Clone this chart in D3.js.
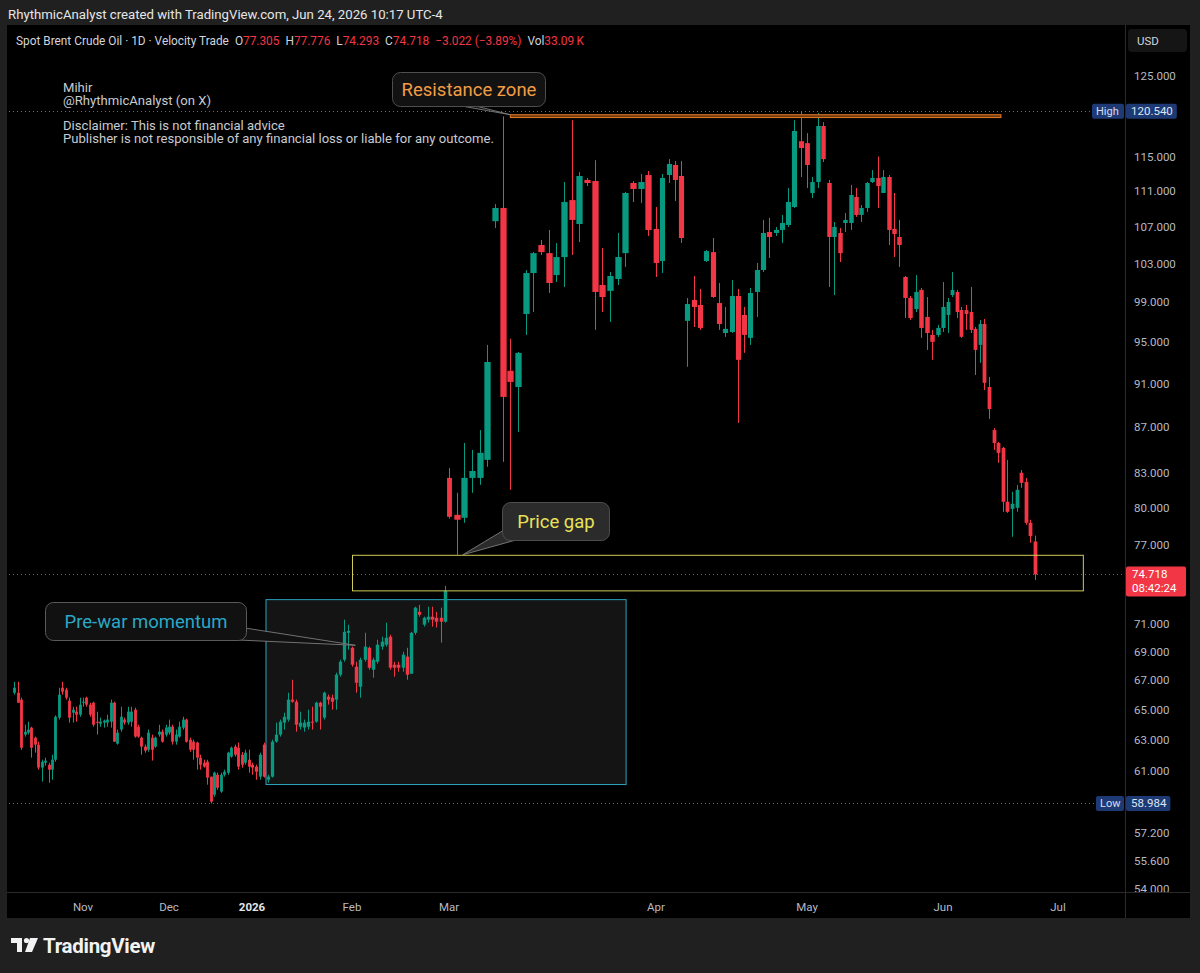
<!DOCTYPE html>
<html lang="en">
<head>
<meta charset="UTF-8">
<title>Spot Brent Crude Oil 1D</title>
<style>
  body { margin: 0; background: #202020; }
  svg { display: block; font-family: Roboto, "Noto Sans", sans-serif; }
</style>
</head>
<body>
<script src="https://d3js.org/d3.v7.min.js"></script>
<script>
// daily bars as [open, high, low, close]
const octBars = [
  [66.13,66.88,66.00,66.47],[66.13,66.88,65.45,65.45],[65.66,65.79,62.35,62.48],[63.33,63.98,63.20,63.52],
  [63.46,64.18,63.33,63.66],[63.79,63.85,61.84,62.48],[63.13,63.20,62.16,62.68],[62.68,62.87,61.08,61.21],
  [61.21,61.71,60.33,61.58],[61.52,61.84,61.33,61.65],[61.39,61.52,60.26,61.08],[61.08,62.03,60.45,61.71],
  [61.71,64.60,61.58,64.51],[64.45,66.47,64.32,66.00],[66.47,66.88,66.00,66.20],[66.34,66.47,65.66,65.79],
  [65.59,65.79,64.12,64.45],[64.78,65.18,64.12,64.98],[64.85,65.18,64.18,64.65],[64.65,65.79,64.51,65.32]
]
const novBars = [
  [65.45,65.79,65.18,65.52],[65.79,65.86,65.18,65.32],[65.32,65.45,64.51,64.65],[65.45,65.52,63.85,63.98],
  [64.18,64.85,63.33,64.12],[64.05,64.45,63.85,64.18],[64.12,64.32,63.79,64.25],[64.12,64.65,63.85,64.32],
  [64.18,65.66,63.79,65.45],[65.45,65.52,62.87,62.87],[62.74,63.66,62.68,63.46],[63.66,65.18,63.52,64.51],
  [64.32,64.45,63.98,64.12],[64.12,65.18,63.98,64.85],[64.18,65.18,63.85,64.85],[64.98,65.12,63.13,63.20],
  [63.85,63.98,63.13,63.20],[63.13,63.20,62.03,62.55],[62.55,62.68,62.16,62.29],[62.35,63.66,62.22,63.46],
  [63.13,63.33,61.65,62.35],[62.55,63.20,62.48,63.13],[63.33,63.98,63.20,63.52],[63.52,63.66,62.81,62.87],
  [63.33,63.98,63.20,63.79]
]
const decBars = [
  [63.46,64.32,63.33,63.85],[63.85,63.98,62.68,62.87],[62.87,63.66,62.68,63.33],[63.20,64.18,63.13,63.85],
  [63.79,64.51,63.66,64.32],[64.32,64.38,62.81,62.87],[63.00,63.13,62.22,62.35],[62.87,63.00,61.71,62.35],
  [62.81,62.87,61.08,61.84],[61.84,62.03,61.08,61.39],[61.52,61.71,61.21,61.27],[61.58,61.71,60.14,60.58],
  [60.64,60.64,58.984,59.09],[59.52,60.95,59.40,60.89],[60.76,60.89,59.83,59.95],[59.71,60.89,59.64,60.76],
  [60.76,61.08,60.64,60.95],[60.89,62.22,60.76,62.16],[61.91,62.55,61.84,62.48],[62.55,62.68,61.91,62.03],
  [62.48,62.81,61.08,61.27],[62.03,62.20,61.20,61.39],[61.52,62.35,61.39,62.16],[61.71,62.35,60.89,61.27]
]
const janBars = [
  [61.39,61.52,60.76,61.21],[61.27,61.39,60.45,60.95],[60.64,62.16,60.45,62.03],[62.68,62.81,60.58,60.64],
  [60.45,60.76,60.26,60.64],[60.64,63.00,60.58,62.87],[62.87,64.12,62.81,63.33],[63.33,64.32,63.20,64.18],
  [64.12,64.78,63.66,64.51],[64.32,66.13,64.18,65.66],[65.66,67.02,65.45,65.52],[65.52,65.66,63.52,63.98],
  [63.85,64.85,63.66,64.12],[63.79,64.32,63.52,64.12],[63.85,64.98,63.66,64.18],[64.18,65.18,63.66,64.12],
  [64.18,65.52,64.12,65.45],[65.45,65.52,63.66,65.18],[64.45,66.20,64.32,66.13],[65.86,66.00,65.32,65.66],
  [65.79,66.00,64.98,65.52],[65.66,67.51,64.98,67.37],[67.37,68.42,67.23,68.28],[68.42,71.31,68.28,70.42],
  [70.35,70.94,69.13,70.49]
]
const febBars = [
  [69.27,69.35,67.93,68.07],[67.93,68.28,66.13,66.81],[66.54,68.57,65.79,68.42],[68.42,70.35,68.28,69.35],
  [69.27,69.35,67.72,67.86],[67.72,68.57,67.16,68.42],[68.28,69.85,68.14,69.49],[69.35,70.07,69.13,69.71],
  [69.49,71.09,69.35,69.99],[70.07,70.21,67.72,67.86],[68.07,68.28,67.23,67.86],[68.07,68.28,67.58,67.86],
  [67.86,68.99,67.58,68.78],[68.64,69.27,67.02,67.37],[67.44,70.42,67.44,70.35],[70.35,72.27,70.21,72.20],
  [71.89,72.41,71.53,71.67],[70.94,71.53,70.80,71.45],[71.31,72.27,71.09,71.53],[71.53,72.27,70.80,71.31],
  [71.45,71.89,70.73,71.16],[71.45,72.20,69.64,71.16],[71.16,73.85,71.09,73.47]
]
const marBars = [
  [82.55,83.40,79.14,79.30],[79.46,81.29,76.25,79.06],[79.22,85.58,78.81,82.55],[82.55,84.97,81.29,83.14],
  [82.55,86.73,81.96,84.71],[84.10,94.70,83.50,93.04],[107.60,109.52,106.85,109.08],[109.08,119.90,83.93,89.75],
  [92.20,95.30,81.54,91.15],[90.67,94.01,86.56,93.92],[97.77,102.30,95.68,101.99],[101.99,104.22,97.97,104.11],
  [104.99,105.53,103.91,104.22],[104.11,106.63,99.92,100.95],[101.78,105.20,101.05,103.69],[103.69,112.04,100.54,109.75],
  [109.97,119.43,103.91,107.74],[107.29,113.20,105.31,112.74],[112.28,112.50,111.58,111.93],[112.16,114.60,96.18,100.02],
  [100.74,104.66,97.97,99.50],[100.13,102.10,96.97,101.68],[101.37,106.30,100.74,103.69],[104.11,110.90,102.63,110.78],
  [111.93,112.16,109.75,111.24],[111.24,112.97,109.63,112.04],[112.85,113.32,105.97,106.63]
]
const aprBars = [
  [106.74,109.19,101.58,103.06],[103.27,112.97,102.00,112.51],[112.85,114.72,111.93,114.15],[114.03,114.49,109.86,112.28],
  [112.74,114.49,105.20,105.75],[97.08,99.40,92.58,98.78],[99.20,101.68,96.47,98.48],[98.68,100.33,96.18,96.37],
  [103.27,104.44,103.16,104.33],[104.22,105.75,99.40,99.50],[98.88,100.95,96.18,96.77],[95.87,98.48,95.49,96.28],
  [95.97,101.26,95.87,99.60],[99.60,100.33,87.37,93.25],[97.67,98.48,93.92,95.68],[95.39,100.43,94.70,99.91],
  [100.02,103.06,97.47,102.31],[102.31,107.74,102.10,106.30],[106.41,107.96,103.59,105.86],[106.30,106.96,105.97,106.63],
  [106.63,108.30,105.20,107.40],[107.18,111.35,106.96,109.75],[109.19,119.43,109.08,118.10],[116.86,120.54,112.62,116.04]
]
const mayBars = [
  [116.63,117.84,111.35,114.03],[110.78,112.62,110.21,112.04],[112.04,120.30,111.35,118.71],[118.71,119.19,114.38,114.72],
  [111.93,112.28,100.54,105.86],[105.86,107.51,99.70,106.96],[106.30,106.85,103.16,104.11],[107.40,108.52,106.41,107.74],
  [107.40,111.70,106.63,110.55],[110.33,111.35,108.08,108.30],[108.30,109.41,107.51,109.08],[109.08,112.04,108.63,111.93],
  [112.04,113.43,111.93,112.51],[112.51,115.02,109.08,111.58],[110.78,113.43,110.78,112.62],[112.62,112.85,104.99,106.63],
  [106.74,110.78,103.69,106.19],[105.86,107.74,102.63,104.99],[101.58,101.68,97.37,99.40],[99.40,99.60,97.17,97.37],
  [98.27,101.78,97.97,100.02],[100.23,100.43,95.39,96.37],[97.47,99.50,94.21,95.87],[95.68,96.18,93.25,95.00],
  [95.68,96.67,95.49,96.37]
]
const junBars = [
  [96.37,101.05,95.97,98.48],[97.67,99.40,95.87,98.99],[99.70,102.10,99.50,100.23],[100.02,100.23,97.37,97.97],
  [98.17,98.48,95.39,95.49],[98.17,98.68,96.18,97.77],[97.97,100.54,95.87,96.18],[96.28,96.47,91.80,94.21],
  [94.70,97.17,92.96,96.77],[96.77,97.27,90.39,91.06],[90.67,91.62,87.73,88.63],[86.73,86.91,84.97,85.58],
  [85.58,85.67,83.84,84.71],[85.15,85.23,79.71,80.54],[80.54,84.10,79.62,79.71],[79.95,81.38,77.68,80.37],
  [80.04,81.96,79.71,81.54],[82.99,83.23,81.71,82.13],[82.21,82.55,78.65,78.81],[78.81,79.06,77.20,77.74],
  [77.305,77.776,74.293,74.718]
]

const monthLabels = ['Nov', 'Dec', '2026', 'Feb', 'Mar', 'Apr', 'May', 'Jun', 'Jul']
const monthFirstBar = [20, 45, 69, 94, 117, 144, 168, 193, 218]
const priceTicks = [125, 115, 111, 107, 103, 99, 95, 91, 87, 83, 80, 77, 71, 69, 67, 65, 63, 61, 57.2, 55.6, 54]
const volumeK = 33.09
const countdown = '08:42:24'

const bars = [].concat(octBars, novBars, decBars, janBars, febBars, marBars, aprBars, mayBars, junBars)
  .map((d, i) => ({ i: i, o: d[0], h: d[1], l: d[2], c: d[3] }))

const W = 1200, H = 973
const UP = '#089981', DOWN = '#f23645'
const axisText = '#b7bac3'
const fmt = d3.format('.3f')

const svg = d3.select('body').append('svg')
  .attr('width', W)
  .attr('height', H)

// time axis is bar-indexed, month spacing as on the screen
const x = d3.scaleLinear()
  .domain(monthFirstBar)
  .range([83, 169, 252, 352, 449, 656, 807, 943, 1058])
const y = d3.scaleLog()
  .domain([54, 125])
  .range([889, 76])

const step = i => x(i + 0.5) - x(i - 0.5)
const bodyW = i => Math.max(1.8, step(i) * 0.82)

const defs = svg.append('defs')
defs.append('clipPath').attr('id', 'plot')
  .append('rect').attr('x', 8).attr('y', 25).attr('width', 1117).attr('height', 867)
defs.append('clipPath').attr('id', 'paxis')
  .append('rect').attr('x', 1126).attr('y', 25).attr('width', 64).attr('height', 867)

// panel
svg.append('rect').attr('x', 7).attr('y', 25).attr('width', 1183).attr('height', 893).attr('fill', '#000')
svg.append('line').attr('x1', 1125.5).attr('x2', 1125.5).attr('y1', 25).attr('y2', 918).attr('stroke', '#2a2a2a')
svg.append('line').attr('x1', 7).attr('x2', 1190).attr('y1', 892.5).attr('y2', 892.5).attr('stroke', '#2a2a2a')

// top caption
svg.append('text').attr('x', 8).attr('y', 18.5)
  .attr('fill', '#e6e6e6').attr('font-size', 13.2)
  .text('RhythmicAnalyst created with TradingView.com, Jun 24, 2026 10:17 UTC-4')

// legend
const last = bars[bars.length - 1], prev = bars[bars.length - 2]
const chg = last.c - prev.c
const minus = s => s.replace('-', '\u2212')
const legend = svg.append('text').attr('x', 16).attr('y', 44.5).attr('font-size', 11.85).attr('fill', '#d1d4dc')
legend.append('tspan').text('Spot Brent Crude Oil · 1D · Velocity Trade')
const legendParts = [['O', fmt(last.o)], ['H', fmt(last.h)], ['L', fmt(last.l)], ['C', fmt(last.c)],
  [null, minus(fmt(chg)) + ' (' + minus(d3.format('.2f')(chg / prev.c * 100)) + '%)'],
  ['Vol', volumeK + '\u2009K']]
legendParts.forEach(p => {
  if (p[0]) {
    legend.append('tspan').attr('dx', 6).text(p[0])
    legend.append('tspan').attr('fill', DOWN).text(p[1])
  } else {
    legend.append('tspan').attr('dx', 6).attr('fill', DOWN).text(p[1])
  }
})

// boxes drawn under the candles
const drawings = svg.append('g').attr('clip-path', 'url(#plot)')
drawings.append('rect')
  .attr('x', x(72.5)).attr('y', y(72.8))
  .attr('width', x(140.1) - x(72.5)).attr('height', y(60.15) - y(72.8))
  .attr('fill', 'rgba(255,255,255,0.08)').attr('stroke', '#2aa3be')

// high / low / last price lines
const hi = d3.max(bars, d => d.h), lo = d3.min(bars, d => d.l)
const dotted = (v, col, x2) => svg.append('line')
  .attr('x1', 9).attr('x2', x2).attr('y1', Math.round(y(v)) + 0.5).attr('y2', Math.round(y(v)) + 0.5)
  .attr('stroke', col).attr('stroke-dasharray', '1,3')
dotted(hi, '#6b6b6b', 1092)
dotted(lo, '#6b6b6b', 1096)
dotted(last.c, '#c93a45', 1125)

// candles
const cg = svg.append('g').attr('clip-path', 'url(#plot)')
cg.selectAll('.wick').data(bars).join('line')
  .attr('class', 'wick')
  .attr('x1', d => Math.round(x(d.i)) + 0.5)
  .attr('x2', d => Math.round(x(d.i)) + 0.5)
  .attr('y1', d => y(d.h))
  .attr('y2', d => y(d.l))
  .attr('stroke', d => d.c >= d.o ? UP : DOWN)
cg.selectAll('.body').data(bars).join('rect')
  .attr('class', 'body')
  .attr('x', d => Math.round(x(d.i)) + 0.5 - bodyW(d.i) / 2)
  .attr('width', d => bodyW(d.i))
  .attr('y', d => y(Math.max(d.o, d.c)))
  .attr('height', d => Math.max(1, Math.abs(y(d.o) - y(d.c))))
  .attr('fill', d => d.c >= d.o ? UP : DOWN)

// resistance zone + price gap
const overlay = svg.append('g').attr('clip-path', 'url(#plot)')
overlay.append('rect')
  .attr('x', x(125)).attr('y', y(120.1))
  .attr('width', x(205.6) - x(125)).attr('height', y(119.75) - y(120.1))
  .attr('fill', '#6e3a12').attr('stroke', '#e57b23')
overlay.append('rect')
  .attr('x', x(94) + 0.5).attr('y', y(76.25) + 0.5)
  .attr('width', x(223.4) - x(94)).attr('height', y(73.5) - y(76.25))
  .attr('fill', 'none').attr('stroke', '#cfcc58')

// callouts
function callout(box, base, tip, fill, stroke, label, color) {
  const g = svg.append('g')
  g.append('path')
    .attr('d', 'M' + base[0] + 'L' + tip + 'L' + base[1] + 'Z')
    .attr('fill', fill).attr('stroke', '#8a8a8a').attr('stroke-width', 0.8)
  g.append('rect')
    .attr('x', box[0]).attr('y', box[1]).attr('width', box[2]).attr('height', box[3])
    .attr('rx', 8).attr('fill', fill).attr('stroke', stroke)
  g.append('text')
    .attr('x', box[0] + box[2] / 2).attr('y', box[1] + box[3] / 2 + 6)
    .attr('text-anchor', 'middle').attr('font-size', 18.5).attr('fill', color)
    .text(label)
}
callout([392.5, 72.5, 153, 34], [[456, 105], [476, 106]], [x(125), y(120.1)], '#121212', '#4e4e4e', 'Resistance zone', '#f29d45')
callout([502.5, 502.5, 107, 38], [[504, 530], [516, 540]], [x(118.8), y(76.25)], '#2b2b2b', '#4e4e4e', 'Price gap', '#e8e25a')
callout([45.5, 602.5, 201, 38], [[245, 628], [238, 640]], [x(94.8), y(69.45)], '#111', '#5a5a5a', 'Pre-war momentum', '#2aa8c6')

// author notes
const notes = [['Mihir', 91.5], ['@RhythmicAnalyst (on X)', 104.5], ['Disclaimer: This is not financial advice', 129.5],
  ['Publisher is not responsible of any financial loss or liable for any outcome.', 142.5]]
svg.selectAll('.note').data(notes).join('text')
  .attr('x', 63).attr('y', d => d[1])
  .attr('font-size', 13.1).attr('fill', '#c9cbd1')
  .text(d => d[0])

// price axis
const pa = svg.append('g').attr('clip-path', 'url(#paxis)')
pa.append('g')
  .attr('transform', 'translate(1126,0)')
  .call(d3.axisRight(y).tickValues(priceTicks).tickFormat(fmt).tickSize(0).tickPadding(8))
  .call(g => g.select('.domain').remove())
  .selectAll('text').attr('fill', axisText).attr('font-size', 11.5).attr('font-family', 'Roboto, sans-serif')

svg.append('rect').attr('x', 1128).attr('y', 29).attr('width', 59).attr('height', 23).attr('rx', 4).attr('fill', '#151515')
svg.append('text').attr('x', 1137).attr('y', 44.5).attr('font-size', 11.5).attr('fill', '#d1d4dc').text('USD')

// high / low tags
function tag(v, name, nameX) {
  const yy = y(v)
  svg.append('rect').attr('x', nameX).attr('y', yy - 7.5).attr('width', 1124 - nameX).attr('height', 15).attr('rx', 2).attr('fill', '#1e3a74')
  svg.append('text').attr('x', nameX + 4).attr('y', yy + 4).attr('font-size', 11).attr('fill', '#d6def0').text(name)
  const t = svg.append('text').attr('x', 1131).attr('y', yy + 4).attr('font-size', 11.5).attr('fill', '#dfe5f3').text(fmt(v))
  const w = t.node().getComputedTextLength()
  svg.insert('rect', () => t.node()).attr('x', 1126).attr('y', yy - 7.5).attr('width', w + 9).attr('height', 15).attr('rx', 2).attr('fill', '#1e3a74')
}
tag(hi, 'High', 1092)
tag(lo, 'Low', 1096)

// last price tag
const ly = y(last.c)
svg.append('rect').attr('x', 1126).attr('y', ly - 8).attr('width', 60).attr('height', 30).attr('rx', 2).attr('fill', DOWN)
svg.append('text').attr('x', 1132).attr('y', ly + 4).attr('font-size', 11.5).attr('fill', '#fff').text(fmt(last.c))
svg.append('text').attr('x', 1132).attr('y', ly + 18).attr('font-size', 11.5).attr('fill', '#fff').text(countdown)

// time axis
svg.selectAll('.month').data(monthLabels).join('text')
  .attr('x', (d, k) => x(monthFirstBar[k]))
  .attr('y', 911)
  .attr('text-anchor', 'middle')
  .attr('font-size', 11.5)
  .attr('font-weight', d => d === '2026' ? 700 : 400)
  .attr('fill', d => d === '2026' ? '#e3e5ea' : axisText)
  .text(d => d)

// TradingView mark
const logo = svg.append('g').attr('fill', '#f2f2f2')
logo.append('path').attr('d', 'M11,938H22V952H17V943H11Z')
logo.append('circle').attr('cx', 26.5).attr('cy', 940.5).attr('r', 2.6)
logo.append('path').attr('d', 'M30,938H38L32,952H25Z')
svg.append('text').attr('x', 43).attr('y', 953)
  .attr('font-size', 20.5).attr('font-weight', 700).attr('fill', '#f2f2f2')
  .attr('letter-spacing', -0.3)
  .text('TradingView')
</script>
</body>
</html>
